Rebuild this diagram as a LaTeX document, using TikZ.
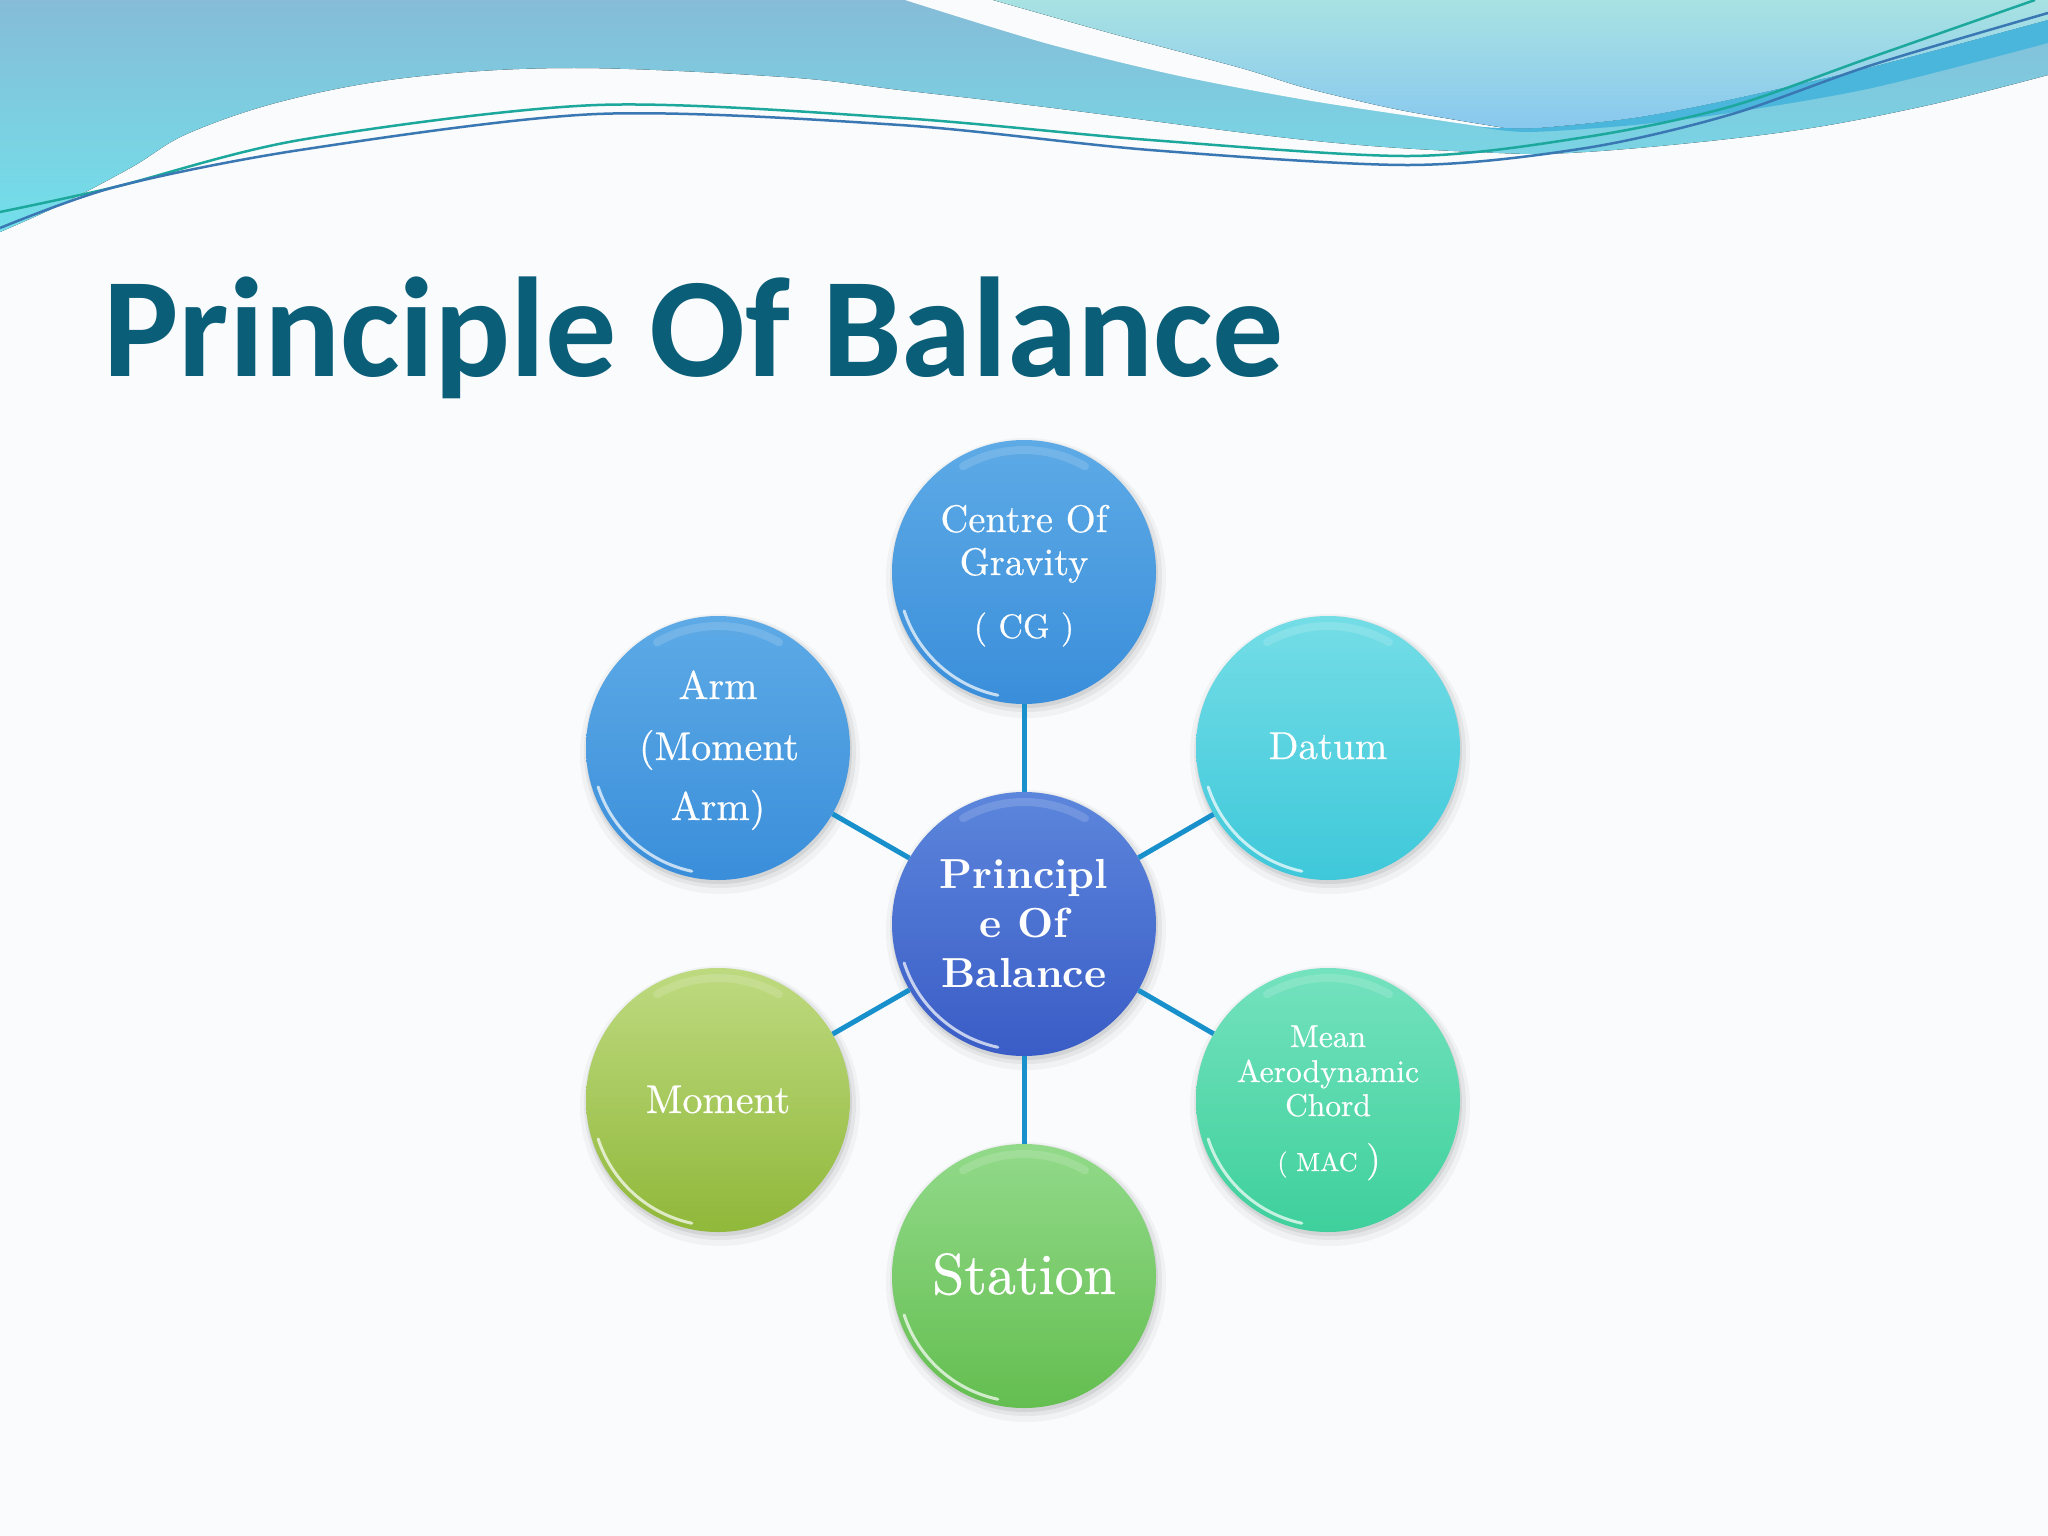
\documentclass[tikz,border=0pt]{standalone}
\usepackage{fontspec}
\newfontfamily\carlito{Carlito}
\newfontfamily\lmreg{lmroman10-regular.otf}[FakeBold=0.5]
\newfontfamily\lmbold{lmroman10-bold.otf}
\definecolor{bgc}{HTML}{FAFBFC}
\definecolor{waveAa}{HTML}{86BCD8}
\definecolor{waveAb}{HTML}{72E0EA}
\definecolor{waveBa}{HTML}{A8E2E3}
\definecolor{waveBb}{HTML}{88C8EE}
\definecolor{darkband}{HTML}{4AB6DC}
\definecolor{lineA}{HTML}{1CA89C}
\definecolor{lineB}{HTML}{3A78B4}
\definecolor{titlec}{HTML}{0B5E78}
\definecolor{connc}{HTML}{1790CC}
\definecolor{cgA}{HTML}{5DAAE6}
\definecolor{cgB}{HTML}{3A8EDA}
\definecolor{cA}{HTML}{5C86DC}
\definecolor{cB}{HTML}{3A5CC6}
\definecolor{datA}{HTML}{74DDE6}
\definecolor{datB}{HTML}{3EC8DA}
\definecolor{macA}{HTML}{74E2BE}
\definecolor{macB}{HTML}{3ED09C}
\definecolor{staA}{HTML}{92DA8A}
\definecolor{staB}{HTML}{64BE50}
\definecolor{momA}{HTML}{BEDA80}
\definecolor{momB}{HTML}{90B83A}
\begin{document}
\begin{tikzpicture}[x=1pt,y=-1pt,
  conn/.style={draw=connc, line width=5pt},
  bubble/.style 2 args={circle, minimum size=264pt, inner sep=0pt, top color=#1, bottom color=#2, draw=none},
  lbl/.style={text=white, inner sep=0pt, anchor=base},
  fA/.style={font=\lmreg\fontsize{38.5}{44}\selectfont},
]
\useasboundingbox (0,0) rectangle (2048,1536);
\fill[bgc] (0,0) rectangle (2048,1536);
% waves
\fill[top color=waveAa, bottom color=waveAb] (0,0) -- (2048,0) -- plot[smooth, tension=0.6] coordinates {(2048,75) (1920,107) (1777,133) (1586,152) (1476,152) (1306,140) (1045,107) (900,90) (784,77) (574,68) (413,77) (287,100) (189,133) (132,167) (60,205) (0,232)} -- cycle;
\fill[bgc] (905,0) -- plot[smooth] coordinates {(993,0) (1110,33) (1241,68) (1306,88) (1400,110) (1505,128)} -- plot[smooth] coordinates {(1505,130) (1437,120) (1306,100) (1175,75) (1045,43) (905,0)} -- cycle;
\fill[top color=waveBa, bottom color=waveBb] (993,0) -- (2048,0) -- plot[smooth] coordinates {(2048,20) (1872,67) (1729,100) (1634,118) (1539,128) (1505,128)} -- plot[smooth] coordinates {(1505,128) (1400,110) (1306,88) (1241,68) (1110,33) (993,0)} -- cycle;
\fill[darkband] plot[smooth] coordinates {(1480,127) (1539,128) (1634,118) (1729,100) (1872,67) (2048,20)} -- plot[smooth] coordinates {(2048,43) (1872,88) (1729,113) (1634,125) (1529,132) (1480,127)} -- cycle;
\draw[lineA, line width=2.5pt] plot[smooth] coordinates {(0,212) (115,187) (300,140) (597,105) (900,118) (1150,140) (1410,156) (1586,137) (1729,107) (1872,57) (2035,0)};
\draw[lineB, line width=2.5pt] plot[smooth] coordinates {(0,228) (115,187) (300,150) (597,114) (900,125) (1150,150) (1410,165) (1586,148) (1729,115) (1872,65) (2048,13)};
% title
\node[anchor=base west, inner sep=0pt, text=titlec, font=\carlito\bfseries\fontsize{142}{164}\selectfont] (title) at (103,376) {Principle Of Balance};
% shadows
\foreach \px/\py in {1024/924, 1024/572, 1328/748, 1328/1100, 1024/1276, 718/1100, 718/748} {
  \fill[black, opacity=0.035] (\px+2,\py+6) circle[radius=140pt];
  \fill[black, opacity=0.05] (\px+2,\py+4) circle[radius=136pt];
  \fill[black, opacity=0.07] (\px+1,\py+3) circle[radius=133pt];
}
% bubbles
\node[bubble={cA}{cB}] (c) at (1024,924) {};
\node[bubble={cgA}{cgB}] (cg) at (1024,572) {};
\node[bubble={datA}{datB}] (dat) at (1328,748) {};
\node[bubble={macA}{macB}] (mac) at (1328,1100) {};
\node[bubble={staA}{staB}] (sta) at (1024,1276) {};
\node[bubble={momA}{momB}] (mom) at (718,1100) {};
\node[bubble={cgA}{cgB}] (arm) at (718,748) {};
% connectors
\draw[conn] (c) -- (cg);
\draw[conn] (c) -- (dat);
\draw[conn] (c) -- (mac);
\draw[conn] (c) -- (sta);
\draw[conn] (c) -- (mom);
\draw[conn] (c) -- (arm);
% rims
\foreach \n in {c,cg,dat,mac,sta,mom,arm} {
  \draw[white, opacity=.7, line width=3pt, line cap=round] ([shift={(198:126pt)}]\n.center) arc[start angle=198, end angle=258, radius=126pt];
  \draw[white, opacity=.15, line width=8pt, line cap=round] ([shift={(60:122pt)}]\n.center) arc[start angle=60, end angle=120, radius=122pt];
}
% labels
\node[lbl, fA] (cg1) at (1024,532) {Centre Of};
\node[lbl, fA] (cg2) at (1024,575) {Gravity};
\node[lbl, font=\lmreg\fontsize{34}{40}\selectfont] (cg3) at (1024,638) {( CG )};
\node[lbl, font=\lmbold\fontsize{42}{48}\selectfont] (c1) at (1024,888) {Principl};
\node[lbl, font=\lmbold\fontsize{42}{48}\selectfont] (c2) at (1024,937) {e Of};
\node[lbl, font=\lmbold\fontsize{42}{48}\selectfont] (c3) at (1024,987) {Balance};
\node[lbl, font=\lmreg\fontsize{39}{44}\selectfont] (d1) at (1328,759) {Datum};
\node[lbl, font=\lmreg\fontsize{31.5}{36}\selectfont] (m1) at (1328,1047) {Mean};
\node[lbl, font=\lmreg\fontsize{31.5}{36}\selectfont] (m2) at (1328,1082) {Aerodynamic};
\node[lbl, font=\lmreg\fontsize{31.5}{36}\selectfont] (m3) at (1328,1116) {Chord};
\node[lbl, font=\lmreg\fontsize{26}{30}\selectfont] (m4) at (1329,1171) {( MAC \fontsize{37}{40}\selectfont)};
\node[lbl, font=\lmreg\fontsize{58}{64}\selectfont] (s1) at (1024,1294) {Station};
\node[lbl, font=\lmreg\fontsize{40}{46}\selectfont] (mo1) at (718,1113) {Moment};
\node[lbl, font=\lmreg\fontsize{40}{46}\selectfont] (a1) at (718,699) {Arm};
\node[lbl, font=\lmreg\fontsize{40}{46}\selectfont] (a2) at (719,760) {(Moment};
\node[lbl, font=\lmreg\fontsize{40}{46}\selectfont] (a3) at (718,820) {Arm)};
\end{tikzpicture}
\end{document}
